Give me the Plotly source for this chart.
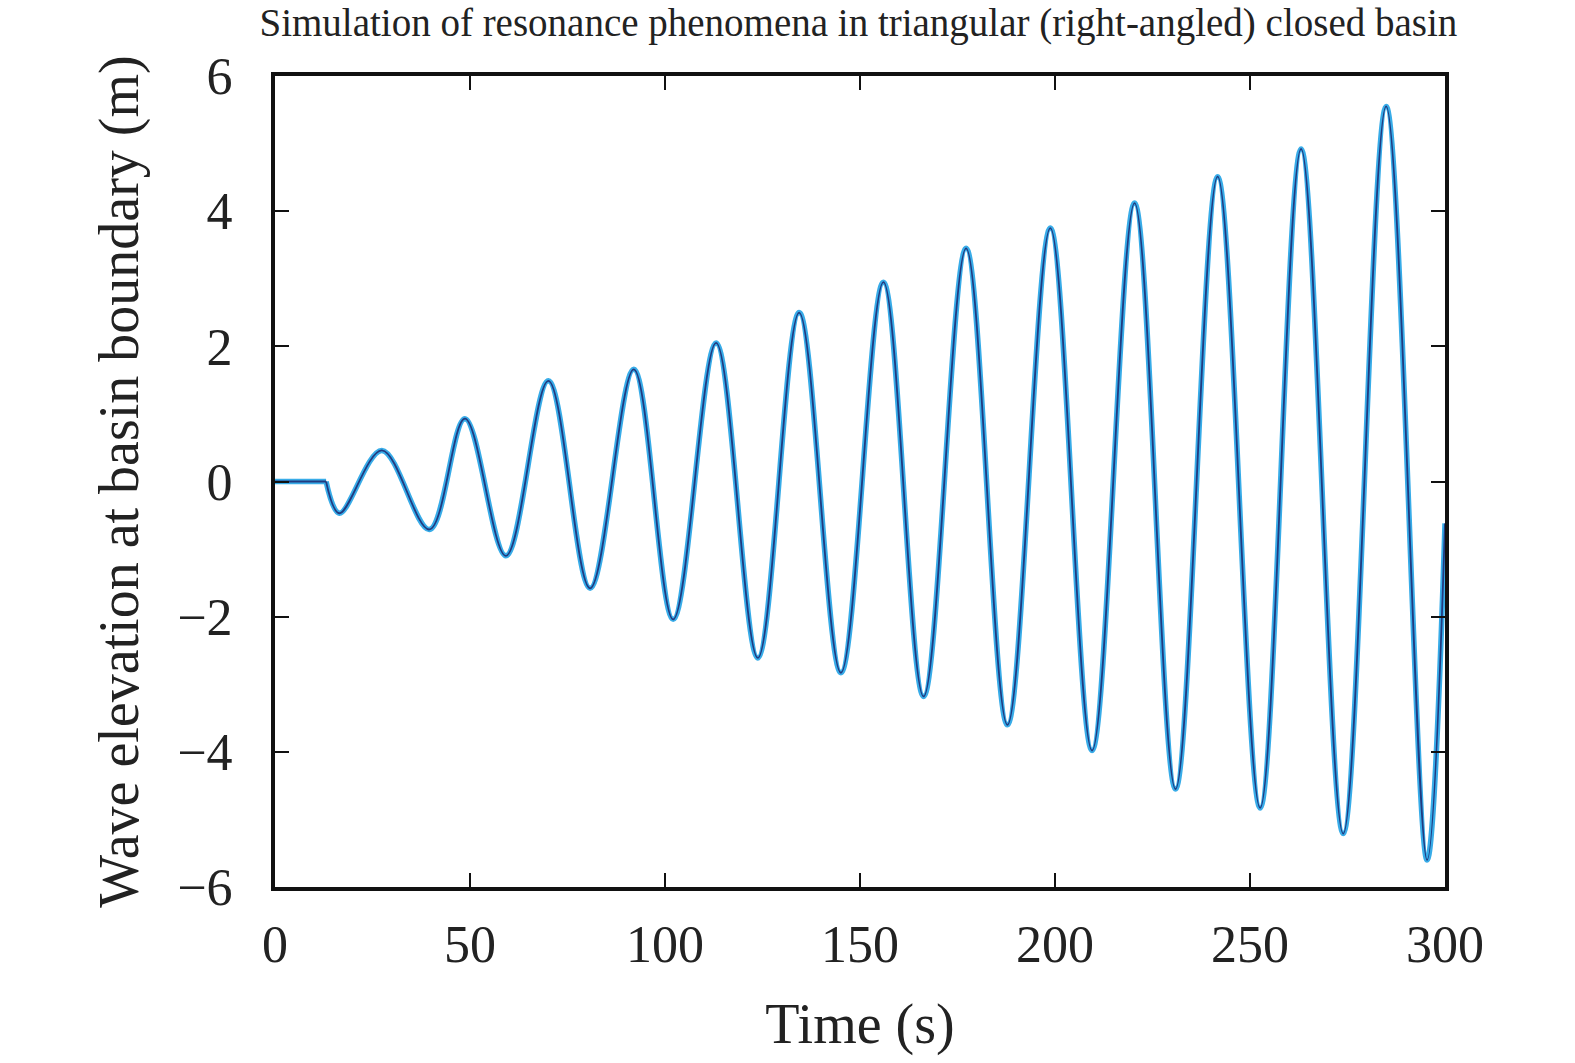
import plotly.graph_objects as go

# Extrema of the wave-elevation record (time in s, elevation in m)
time_s = [0, 13.1, 16.5, 27.4, 39.6, 48.7, 59.2, 70.1, 80.8, 92.0, 102.1, 113.1,
          123.8, 134.4, 145.1, 156.0, 166.3, 177.2, 187.8, 198.8, 209.5, 220.4,
          230.9, 241.7, 252.6, 263.1, 273.9, 284.9, 295.4, 300.0]
elevation_m = [0, 0, -0.47, 0.46, -0.71, 0.93, -1.10, 1.49, -1.58, 1.66, -2.04, 2.05,
               -2.61, 2.50, -2.83, 2.95, -3.18, 3.45, -3.60, 3.75, -3.98, 4.12,
               -4.55, 4.51, -4.83, 4.92, -5.21, 5.55, -5.60, -0.62]

x_ticks = [0, 50, 100, 150, 200, 250, 300]
y_ticks = [-6, -4, -2, 0, 2, 4, 6]

FONT = "Liberation Serif"
LIGHT = "#38ace8"
DARK = "#213a80"

# the record is still (flat) until the wave arrives, then oscillates smoothly
flat_t, flat_v = time_s[:2], elevation_m[:2]
wave_t, wave_v = time_s[1:], elevation_m[1:]

fig = go.Figure()
for color, width in [(LIGHT, 5.5), (DARK, 1.8)]:
    fig.add_trace(go.Scatter(x=flat_t, y=flat_v, mode="lines",
                             line=dict(color=color, width=width), showlegend=False,
                             hoverinfo="skip"))
    fig.add_trace(go.Scatter(x=wave_t, y=wave_v, mode="lines",
                             line=dict(color=color, width=width, shape="spline", smoothing=1.0),
                             showlegend=False))

axis_common = dict(showgrid=False, zeroline=False, showline=True, linecolor="#111",
                   linewidth=4, mirror="ticks", ticks="inside", ticklen=14, tickwidth=2,
                   tickcolor="#111", tickfont=dict(family=FONT, size=52, color="#222"))

fig.update_xaxes(range=[0, 300], tickvals=x_ticks, ticklabelstandoff=9,
                 title=dict(text="Time (s)", font=dict(family=FONT, size=56, color="#222"), standoff=32),
                 **axis_common)
fig.update_yaxes(range=[-6, 6], tickvals=y_ticks, ticklabelstandoff=28,
                 title=dict(text="Wave elevation at basin boundary (m)",
                            font=dict(family=FONT, size=56, color="#222"), standoff=22),
                 **axis_common)

fig.update_layout(
    width=1575, height=1063,
    margin=dict(l=275, r=130, t=76, b=176),
    paper_bgcolor="white", plot_bgcolor="white",
    title=dict(text="Simulation of resonance phenomena in triangular (right-angled) closed basin",
               font=dict(family=FONT, size=39, color="#222"),
               x=0.545, xanchor="center", y=0.979, yanchor="middle"),
)

fig.write_html("out.html")
